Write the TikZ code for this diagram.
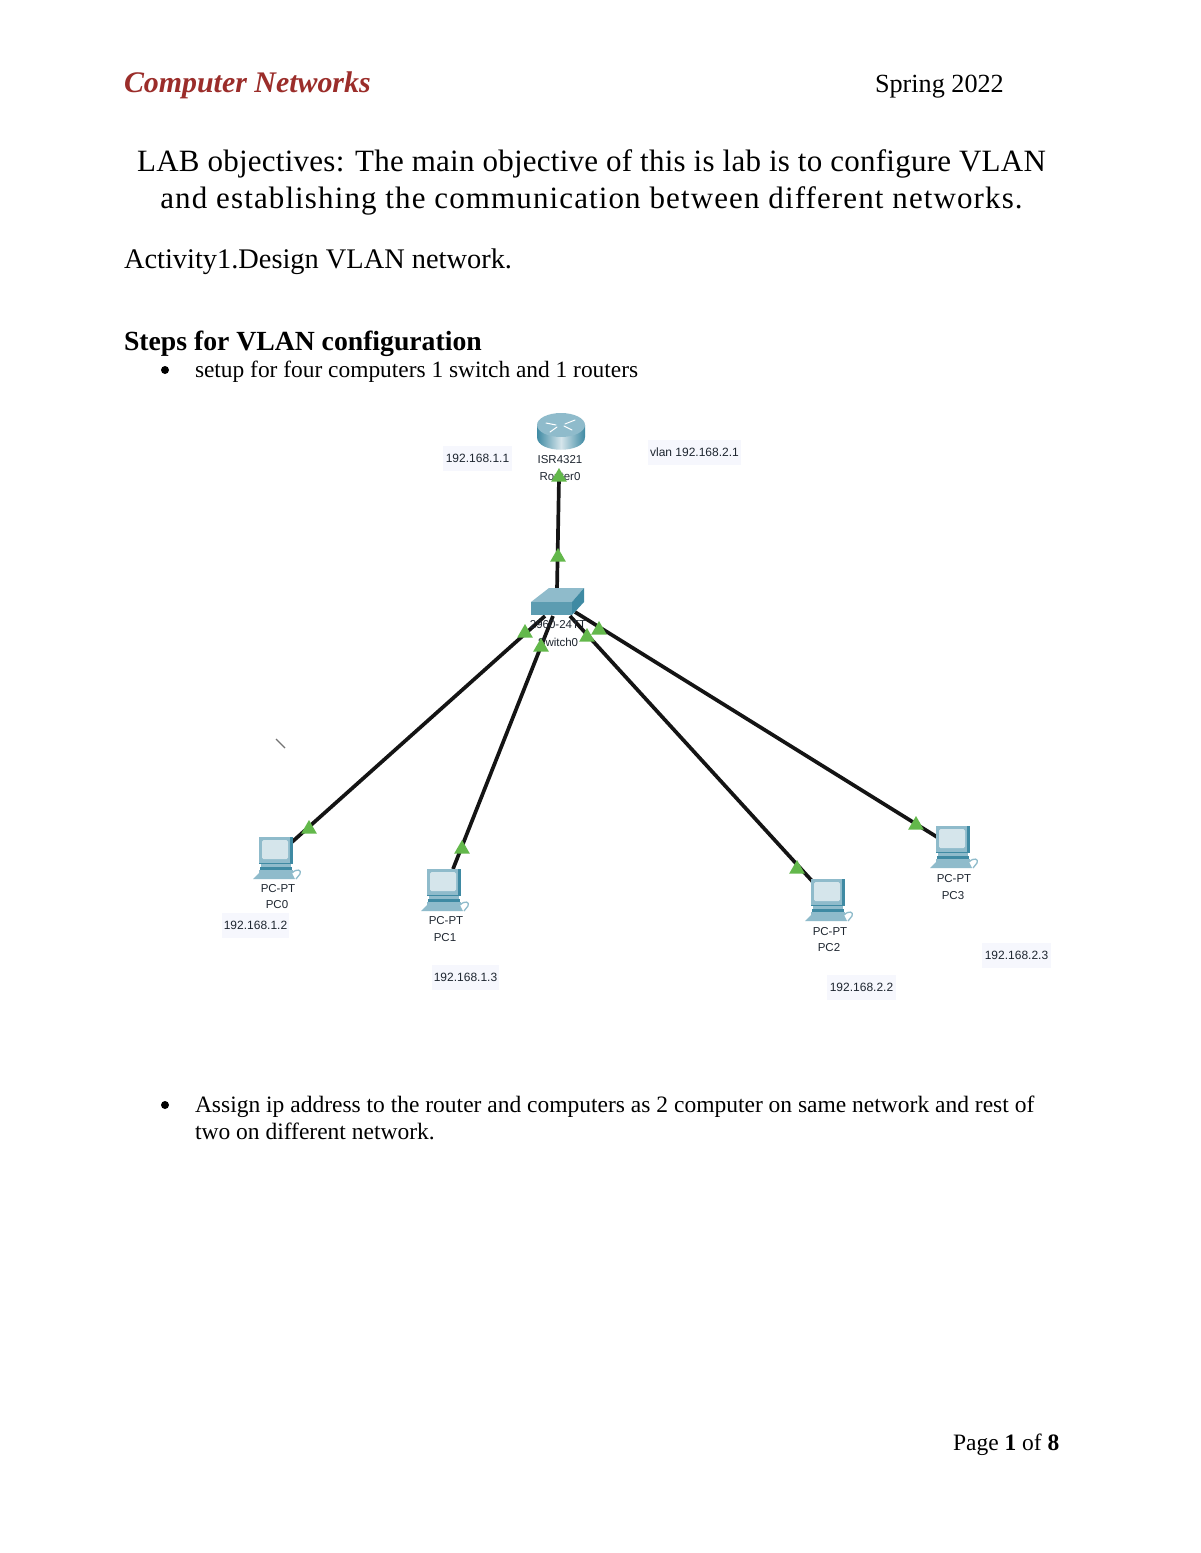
\documentclass[tikz,border=0pt]{standalone}
\usepackage{fontspec}
\setmainfont{Liberation Serif}
\setsansfont{Liberation Sans}
\usetikzlibrary{shapes.geometric}
\definecolor{headred}{HTML}{9B2D2A}
\definecolor{pcteal}{HTML}{3F8AA3}
\definecolor{pcmid}{HTML}{8FBBCB}
\definecolor{pcscreen}{HTML}{D5E5EB}
\definecolor{linkgreen}{HTML}{63B84B}
\definecolor{labelbg}{HTML}{F6F7FD}
\definecolor{devtext}{HTML}{1E2630}
\newfontfamily\spacedA[LetterSpace=0.8]{Liberation Serif}
\newfontfamily\spacedB[LetterSpace=3.6]{Liberation Serif}
\tikzset{
  x=1pt,y=-1pt,
  txt/.style={anchor=base west,inner sep=0pt,outer sep=0pt,text=black},
  ctr/.style={anchor=base,inner sep=0pt,outer sep=0pt,text=black},
  link/.style={line width=3.7pt,draw=black!92},
  tri/.style={regular polygon,regular polygon sides=3,fill=linkgreen,inner sep=0pt,minimum size=18pt,outer sep=0pt},
  devlabel/.style={font=\sffamily\fontsize{11.5}{13}\selectfont,text=devtext,inner sep=0pt,anchor=center},
  iplabel/.style={font=\sffamily\fontsize{12}{14}\selectfont,text=devtext,fill=labelbg,anchor=center,inner sep=0pt,minimum height=25pt},
  pcbox/.style={inner sep=0pt,minimum width=34pt,minimum height=26pt,anchor=north west},
}
\newcommand{\pcicon}[2]{%
  \begin{scope}[shift={(#1,#2)}]
    \fill[pcmid] (-6,42) -- (0,36) -- (33,36) -- (36,42) -- cycle;
    \fill[pcmid] (2,26) rectangle (32,30);
    \fill[pcteal] (1,30) rectangle (33,33);
    \fill[pcmid] (0,33) rectangle (34,36);
    \fill[pcteal] (0,0) rectangle (34,27);
    \fill[pcmid] (0,0) -- (31,0) -- (31,26) -- (0,26) -- cycle;
    \fill[pcscreen,rounded corners=1.5pt] (3,3) rectangle (29,22);
    \draw[pcmid,line width=1.3pt] (33,36) .. controls (38,31) and (43,33) .. (41,37) -- (37,42);
  \end{scope}}
\begin{document}
\begin{tikzpicture}
\useasboundingbox (0,0) rectangle (1200,1553);
\fill[white] (0,0) rectangle (1200,1553);
% page text
\node[txt,text=headred,font=\fontsize{29.9}{32}\selectfont\bfseries\itshape] (title) at (124,92) {Computer Networks};
\node[txt,font=\fontsize{26.2}{30}\selectfont] (term) at (875,92) {Spring 2022};
\node[ctr,font=\fontsize{31}{34}\selectfont\spacedA] (obj1) at (591.5,171) {LAB objectives: The main objective of this is lab is to configure VLAN};
\node[ctr,font=\fontsize{31}{34}\selectfont\spacedB] (obj2) at (591.5,208) {and establishing the communication between different networks.};
\node[txt,font=\fontsize{28.4}{32}\selectfont] (act) at (124,268) {Activity1.Design VLAN network.};
\node[txt,font=\fontsize{27.7}{30}\selectfont\bfseries] (steps) at (124,350) {Steps for VLAN configuration};
\node[circle,fill=black,minimum size=8pt,inner sep=0pt] (b1) at (165,370) {};
\node[txt,font=\fontsize{23.4}{26}\selectfont] (s1) at (195,377) {setup for four computers 1 switch and 1 routers};
\node[circle,fill=black,minimum size=8pt,inner sep=0pt] (b2) at (165,1105) {};
\node[txt,font=\fontsize{23.5}{26}\selectfont] (s2a) at (195,1112) {Assign ip address to the router and computers as 2 computer on same network and rest of};
\node[txt,font=\fontsize{23.5}{26}\selectfont] (s2b) at (195,1139) {two on different network.};
\node[txt,font=\fontsize{23.5}{28}\selectfont] (pg) at (953,1450) {Page \textbf{1} of \textbf{8}};
% anchors for devices
\coordinate (rtr) at (559,478);
\coordinate (swt) at (557,590);
\coordinate (sw0) at (545,616);
\coordinate (sw1) at (553,616);
\coordinate (sw2) at (570,616);
\coordinate (sw3) at (575,612);
\node[pcbox] (pc0) at (259,837) {};
\node[pcbox] (pc1) at (427,869) {};
\node[pcbox] (pc2) at (811,879) {};
\node[pcbox] (pc3) at (936,826) {};
\coordinate (pc0p) at (292,842);
\coordinate (pc1p) at (453,869);
\coordinate (pc2p) at (813,882);
\coordinate (pc3p) at (937,837);
% connectors
\draw[link] (rtr) -- (swt);
\draw[link] (sw0) -- (pc0p);
\draw[link] (sw1) -- (pc1p);
\draw[link] (sw2) -- (pc2p);
\draw[link] (sw3) -- (pc3p);
% router
\shade[left color=pcteal,right color=pcteal,middle color=pcscreen] (537,425) -- (537,437) .. controls (537,454) and (585,454) .. (585,437) -- (585,425) -- cycle;
\fill[pcmid] (561,425) ellipse[x radius=24pt,y radius=12pt];
\draw[white,line width=1pt,line cap=round] (546,423) -- (556,425) (575,420) -- (565,424) (550,432) -- (557,427) (572,430) -- (564,426);
% switch
\fill[pcmid] (531,602) -- (549,588) -- (584,588) -- (572,602) -- cycle;
\fill[pcteal!85] (531,602) rectangle (572,615);
\fill[pcteal] (572,602) -- (584,588) -- (584,602) -- (572,615) -- cycle;
% computers
\pcicon{259}{837}
\pcicon{427}{869}
\pcicon{811}{879}
\pcicon{936}{826}
% device labels
\node[devlabel] (r1) at (560,460) {ISR4321};
\node[devlabel] (r2) at (560,477) {Router0};
\node[devlabel] (w1) at (558,625) {2960-24TT};
\node[devlabel] (w2) at (558,642) {Switch0};
\node[devlabel] (p0a) at (278,889) {PC-PT};
\node[devlabel] (p0b) at (277,905) {PC0};
\node[devlabel] (p1a) at (446,921) {PC-PT};
\node[devlabel] (p1b) at (445,938) {PC1};
\node[devlabel] (p2a) at (830,932) {PC-PT};
\node[devlabel] (p2b) at (829,948) {PC2};
\node[devlabel] (p3a) at (954,879) {PC-PT};
\node[devlabel] (p3b) at (953,896) {PC3};
% ip notes
\node[iplabel,minimum width=69pt] (ip1) at (477.5,458) {192.168.1.1};
\node[iplabel,minimum width=93pt] (ip2) at (694.5,452) {vlan 192.168.2.1};
\node[iplabel,minimum width=67pt] (ip3) at (255.5,925) {192.168.1.2};
\node[iplabel,minimum width=67pt] (ip4) at (465.5,977) {192.168.1.3};
\node[iplabel,minimum width=69pt] (ip5) at (861.5,987) {192.168.2.2};
\node[iplabel,minimum width=69pt] (ip6) at (1016.5,955.5) {192.168.2.3};
% link lights
\node[tri] (t1) at (559,477) {};
\node[tri] (t2) at (558,557) {};
\node[tri] (t3) at (525,633) {};
\node[tri] (t4) at (541,647) {};
\node[tri] (t5) at (587,637) {};
\node[tri] (t6) at (599,630) {};
\node[tri] (t7) at (309,829) {};
\node[tri] (t8) at (462,849) {};
\node[tri] (t9) at (797,869) {};
\node[tri] (t10) at (916,825) {};
% stray mark
\draw[black!55,line width=1.2pt] (276,739) -- (285,748);
\end{tikzpicture}
\end{document}
